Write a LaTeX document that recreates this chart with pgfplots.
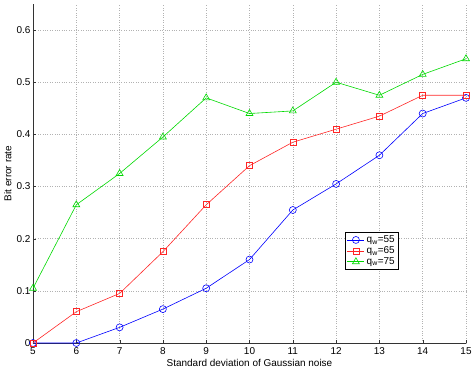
\documentclass[border=0pt]{standalone}
\usepackage{fontspec}
\setmainfont{Liberation Sans}
\usepackage{pgfplots}
\pgfplotsset{compat=1.18}
\begin{document}
\begin{tikzpicture}[x=1bp,y=1bp]
\begin{axis}[
  name=ax,
  scale only axis,
  width=433bp, height=339bp,
  xmin=5, xmax=15, ymin=0, ymax=0.65,
  xtick={5,...,15},
  ytick={0,0.1,0.2,0.3,0.4,0.5,0.6},
  yticklabels={0,0.1,0.2,0.3,0.4,0.5,0.6},
  axis x line*=bottom, axis y line*=left,
  tick align=inside,
  major tick length=3bp,
  grid=major,
  major grid style={gray!60, dotted, line width=0.6pt},
  axis line style={line width=0.7pt, black!80},
  tick style={black!80},
  tick label style={font=\fontsize{10}{11}\selectfont},
  /pgf/number format/assume math mode=true,
  xticklabel style={yshift=-1bp},
  yticklabel style={xshift=1bp},
  label style={font=\fontsize{10}{11}\selectfont},
  xlabel={Standard deviation of Gaussian noise},
  ylabel={Bit error rate},
  xlabel style={at={(axis description cs:0.5,0)}, anchor=center, yshift=-20bp},
  ylabel style={at={(axis description cs:-0.058,0.5)}, anchor=center, rotate=0},
  legend style={at={(axis cs:12.2,0.212)}, anchor=north west, draw=black, line width=0.7pt, fill=white, font=\fontsize{10}{11}\selectfont, inner xsep=2bp, inner ysep=1bp, row sep=-1.5bp},
  legend cell align=left,
  clip=false,
]
\addplot[color=blue, line width=0.6pt, mark=o, mark size=3.5bp, mark options={solid, draw=blue}] coordinates {
(5,0) (6,0) (7,0.03) (8,0.065) (9,0.105) (10,0.16) (11,0.255) (12,0.305) (13,0.36) (14,0.44) (15,0.47)};
\addlegendentry{q$_{\mathrm{w}}$=55}
\addplot[color=red!85!white, line width=0.6pt, mark=square, mark size=3bp, mark options={solid, draw=red!85!white}] coordinates {
(5,0) (6,0.06) (7,0.095) (8,0.175) (9,0.265) (10,0.34) (11,0.385) (12,0.41) (13,0.435) (14,0.475) (15,0.475)};
\addlegendentry{q$_{\mathrm{w}}$=65}
\addplot[color=green!85!black, line width=0.6pt, mark=triangle, mark size=4bp, mark options={solid, draw=green!85!black}] coordinates {
(5,0.105) (6,0.265) (7,0.325) (8,0.395) (9,0.47) (10,0.44) (11,0.445) (12,0.50) (13,0.475) (14,0.515) (15,0.545)};
\addlegendentry{q$_{\mathrm{w}}$=75}
\end{axis}
\pgfresetboundingbox
\path[use as bounding box] (ax.south west) ++(-33bp,-28bp) rectangle ++(474bp,371bp);
\end{tikzpicture}
\end{document}
